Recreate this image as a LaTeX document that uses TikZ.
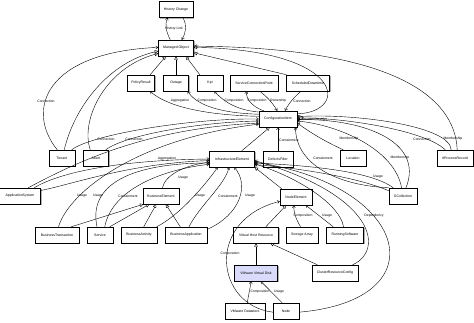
\documentclass[tikz,border=0pt]{standalone}
\usepackage{fontspec}
\setmainfont{Liberation Sans}
\usepackage{tikz}
\usetikzlibrary{arrows.meta,shadows}
\definecolor{vmdisk}{RGB}{218,218,250}

\begin{document}
\begin{tikzpicture}[x=1pt,y=1pt,line width=0.4pt,
  cls/.style={draw, fill=white, minimum height=16pt, inner sep=1pt,
    font=\fontsize{3.5}{4.2}\selectfont,
    drop shadow={shadow xshift=1.2pt,shadow yshift=-1.2pt,fill=black!30,opacity=1}},
  gen/.style={-{Triangle[open,length=3.5pt,width=3.5pt]}},
  assoc/.style={-{Straight Barb[length=2.2pt,width=3pt]}},
  lbl/.style={font=\fontsize{3.4}{4}\selectfont, inner sep=0.5pt}]
  \path[use as bounding box, fill=white] (0,0) rectangle (474,-322);
  % classes
  \foreach \n/\x/\y/\w/\t in {HC/176/9.5/34/History Change, MO/176/48/35/Managed Object,
    PR/141/83/27/PolicyResult, OU/176/83/25/Outage, KPI/210/83/26/Kpi,
    SCP/254/83/48/ServiceConnectionPoint, SD/308/83/43/ScheduledDowntime,
    CI/278/119/38/ConfigurationItem, TN/62/158/26/Tenant, AST/96/158/25/Asset,
    IE/232/159/45/InfrastructureElement, DF/278/159/30/DefectsFilter,
    LOC/353/158/26/Location, ITPR/455/158/36/ItProcessRecord,
    AS/20/196/41/ApplicationSystem, BE/161/196/36/BusinessElement,
    NE/296/197/32/NodeElement, GC/403/196/28/GCollection,
    BT/57/235/44/BusinessTransaction, SVC/100/235/26/Service,
    BA/139/235/36/BusinessActivity, BAPP/186/235/42/BusinessApplication,
    VHR/256/235/45/Virtual Host Resource, SA/302/235/32/Storage Array,
    RS/345/235/37/RunningSoftware, CRC/335/273/46/ClusterResourceConfig,
    VDS/245/311/40/VMware Datastore, ND/286/311/26/Node}
    \node[cls, minimum width=\w pt] (\n) at (\x,-\y) {\t};
  \node[cls, fill=vmdisk, minimum width=43pt] (VVD) at (256,-273) {VMware Virtual Disk};

  % managed object
  \draw[assoc] (MO.125) to[out=115,in=-115] (HC.225) node[lbl] at (174,-29) {History Link};
  \draw[assoc] (HC.-50) to[out=-60,in=60] (MO.55);
  \draw[gen] (PR.42) -- (MO.219);
  \draw[gen] (OU) -- (MO);
  \draw[gen] (KPI.141) -- (MO.-40);
  \draw[gen] (SD.159) -- (MO.-15);
  \draw[gen] (CI.15) .. controls (350,-112) and (345,-50) .. (MO.2);
  \draw[gen] (ITPR.75) .. controls (455,-95) and (390,-48) .. (MO.6);
  \draw[assoc] (TN.120) .. controls (25,-110) and (45,-52) .. (MO.178) node[lbl] at (46,-101) {Connection};
  \draw[gen] (TN.75) .. controls (75,-105) and (110,-62) .. (MO.190);
  \draw[gen] (AST.125) .. controls (80,-120) and (105,-68) .. (MO.197);

  % configuration item
  \draw[assoc] (TN.40) .. controls (90,-135) and (190,-118) .. (CI.180) node[lbl] at (106,-139) {Connection};
  \draw[assoc] (AST.40) .. controls (125,-135) and (200,-122) .. (CI.186) node[lbl] at (134,-139) {Connection};
  \draw[assoc] (CI.172) .. controls (200,-115) and (165,-105) .. (PR.-42) node[lbl] at (180,-101) {Aggregation};
  \draw[assoc] (CI.166) .. controls (215,-113) and (195,-103) .. (OU.-35) node[lbl] at (207,-101) {Composition};
  \draw[assoc] (CI.160) .. controls (235,-110) and (222,-100) .. (KPI.-62) node[lbl] at (234,-101) {Composition};
  \draw[assoc] (CI.150) .. controls (255,-108) and (245,-100) .. (SCP.229) node[lbl] at (257,-101) {Composition};
  \draw[assoc] (SCP.-55) to[bend left=10] (CI.95) node[lbl] at (278,-101) {Ownership};
  \draw[assoc] (SD.-130) to[bend right=10] (CI.50) node[lbl] at (302,-101) {Connection};
  \draw[assoc] (DF) -- (CI) node[lbl] at (289,-140) {Containment};
  \draw[gen] (IE.40) -- (CI.225);
  \draw[assoc] (LOC.140) to[bend left=5] (CI.-12) node[lbl] at (349,-139) {Membership};
  \draw[assoc] (GC.150) .. controls (330,-185) and (295,-160) .. (CI.-25) node[lbl] at (323,-158) {Containment};
  \draw[assoc] (GC.100) .. controls (395,-150) and (340,-125) .. (CI.-6) node[lbl] at (400,-158) {Membership};
  \draw[assoc] (GC.70) .. controls (425,-140) and (360,-118) .. (CI.-2);
  \draw[assoc] (ITPR.140) .. controls (425,-130) and (340,-117) .. (CI.3) node[lbl] at (422,-139) {Connection};
  \draw[assoc] (ITPR.115) .. controls (450,-125) and (350,-113) .. (CI.7) node[lbl] at (453,-139) {Membership};
  \draw[assoc] (CI.10) to[out=0,in=0,looseness=5] (CI.-2) node[lbl] at (313,-119) {ConsumerProvider};

  % infrastructure element
  \draw[assoc] (AS.45) .. controls (80,-160) and (150,-128) .. (CI.192);
  \draw[assoc] (AS.30) .. controls (60,-172) and (120,-160) .. (IE.180) node[lbl] at (167,-159) {Aggregation};
  \draw[assoc] (AS.15) .. controls (70,-185) and (130,-163) .. (IE.184);
  \draw[assoc] (BE.80) .. controls (165,-175) and (185,-165) .. (IE.188) node[lbl] at (183,-178) {Usage};
  \draw[assoc] (BT.80) .. controls (70,-190) and (140,-138) .. (CI.195) node[lbl] at (82,-196) {Usage};
  \draw[assoc] (SVC.110) .. controls (88,-185) and (130,-163) .. (IE.190) node[lbl] at (98,-196) {Usage};
  \draw[assoc] (SVC.60) .. controls (112,-190) and (160,-170) .. (IE.193) node[lbl] at (128,-196) {Containment};
  \foreach \a/\p/\q in {BT/30/205, SVC/40/215, BA/60/240, BAPP/125/-60}
    \draw[gen] (\a.\p) -- (BE.\q);
  \draw[assoc] (BA.25) .. controls (180,-215) and (205,-185) .. (IE.210) node[lbl] at (200,-196) {Usage};
  \draw[assoc] (BAPP.70) .. controls (200,-205) and (225,-185) .. (IE.250) node[lbl] at (228,-196) {Containment};
  \draw[assoc] (BAPP.15) .. controls (240,-215) and (250,-185) .. (IE.-75) node[lbl] at (250,-196) {Usage};
  \draw[assoc] (GC.160) .. controls (360,-178) and (300,-168) .. (IE.-14) node[lbl] at (378,-177) {Usage};
  \draw[assoc] (GC.140) .. controls (370,-170) and (300,-165) .. (IE.-10);
  \draw[assoc] (CRC.25) .. controls (385,-250) and (375,-195) .. (IE.-4) node[lbl] at (374,-216) {Dependency};
  \draw[assoc] (ND.-5) .. controls (440,-300) and (410,-185) .. (IE.-8);

  % node element
  \draw[gen] (NE.150) -- (IE.-20);
  \draw[assoc] (SA.100) to[out=120,in=-90] (NE.255) node[lbl] at (303,-216) {Composition};
  \draw[assoc] (RS.145) -- (NE.-40) node[lbl] at (327,-216) {Usage};
  \draw[assoc] (RS.100) .. controls (340,-205) and (300,-178) .. (IE.-12);
  \draw[gen] (VHR.40) -- (NE.220);
  \draw[gen] (VVD) -- (VHR);
  \draw[gen] (CRC.155) -- (VHR.-30);
  \draw[assoc] (VDS.75) -- (VVD.240) node[lbl] at (260,-292) {Composition};
  \draw[assoc] (ND.115) -- (VVD.-60) node[lbl] at (279,-292) {Usage};
  \draw[assoc] (ND.185) .. controls (215,-305) and (205,-220) .. (NE.195) node[lbl] at (230,-254) {Composition};
\end{tikzpicture}
\end{document}
